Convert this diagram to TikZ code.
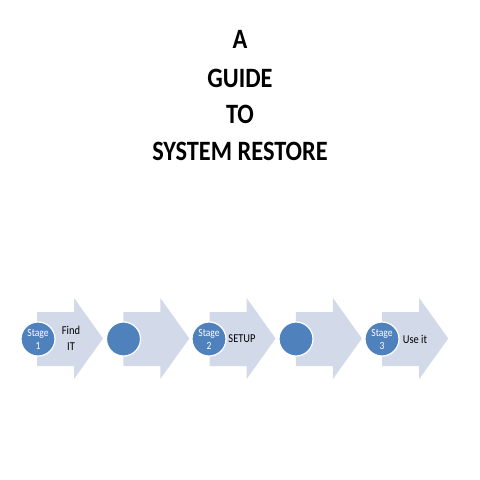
\documentclass[tikz,border=0pt]{standalone}
\usepackage{fontspec}
\setmainfont{Carlito}[FakeStretch=0.87]
\definecolor{arrowfill}{HTML}{D2D9E8}
\definecolor{stageblue}{HTML}{4F81BD}
\begin{document}
\begin{tikzpicture}[x=1pt,y=-1pt,
  titletext/.style={font=\bfseries\fontsize{28}{32}\selectfont, anchor=base},
  chevron/.style={fill=arrowfill, draw=none},
  stagedot/.style={circle, fill=stageblue, draw=white, line width=1.2pt, minimum size=34pt, inner sep=0pt, text=white, font=\fontsize{11}{13}\selectfont, align=center},
  steplabel/.style={font=\fontsize{12}{16}\selectfont, align=center, text=black}]
\useasboundingbox[fill=white] (0,0) rectangle (480,480);
% title
\node[titletext] (tA) at (240,48) {A};
\node[titletext] (tB) at (240,87) {GUIDE};
\node[titletext] (tC) at (240,123) {TO};
\node[titletext] (tD) at (240,160) {SYSTEM RESTORE};
% arrows
\foreach \i in {0,...,4}{
  \pgfmathsetmacro{\L}{37+86.3*\i}
  \fill[chevron] (\L,312) -- (\L+37,312) -- (\L+37,298) -- (\L+66,338.5) -- (\L+37,379) -- (\L+37,366) -- (\L,366) -- cycle;
}
% circles
\node[stagedot] (s1) at (38,339) {Stage\\1};
\node[stagedot] (s2) at (123.5,339) {};
\node[stagedot] (s3) at (209,339) {Stage\\2};
\node[stagedot] (s4) at (296,339) {};
\node[stagedot] (s5) at (382,339) {Stage\\3};
% labels
\node[steplabel] (l1) at (71,338) {Find\\IT};
\node[steplabel] (l3) at (242,339) {SETUP};
\node[steplabel] (l5) at (415,339) {Use it};
\end{tikzpicture}
\end{document}
